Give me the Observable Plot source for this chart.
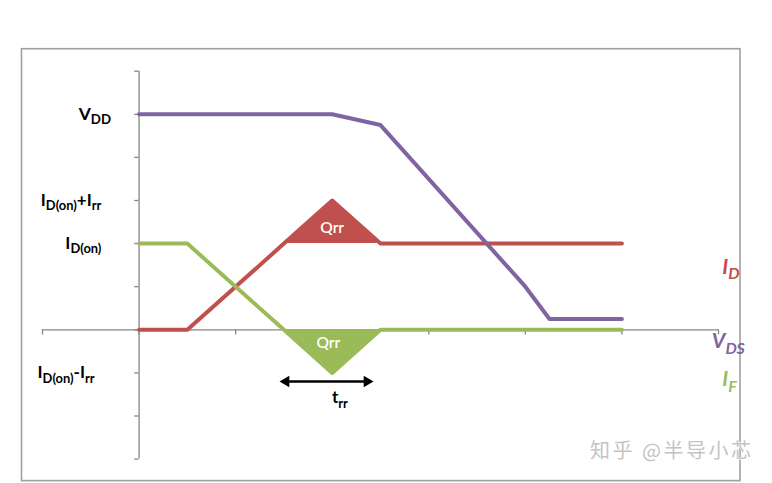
<!DOCTYPE html>
<html>
<head>
<meta charset="utf-8">
<script src="https://cdn.jsdelivr.net/npm/d3@7"></script>
<script src="https://cdn.jsdelivr.net/npm/@observablehq/plot@0.6"></script>
<style>
  html, body { margin: 0; padding: 0; background: #fff; }
  #chart svg { display: block; }
</style>
</head>
<body>
<div id="chart"></div>
<script>
// ---- data ----
const vdsX = [0, 2, 2.5, 4, 4.25, 5];
const vdsY = [5, 5, 4.75, 1, 0.25, 0.25];
const idX  = [0, 0.5, 1.5, 2, 2.5, 5];
const idY  = [0, 0, 2, 3, 2, 2];
const ifX  = [0, 0.5, 1.5, 2, 2.5, 5];
const ifY  = [2, 2, 0, -1, 0, 0];
const qrrStart = 1.5, qrrEnd = 2.5;     // reverse recovery interval
const trrY = -1.2;                       // level of the t_rr arrow
const xTicks = [-1, 0, 1, 2, 3, 4, 5, 6];
const yTicks = [-3, -2, -1, 0, 1, 2, 3, 4, 5, 6];
const yLabelText = ["V_{DD}", "I_{D(on)}+I_{rr}", "I_{D(on)}", "I_{D(on)}-I_{rr}"];
const yLabelValue = [5, 3, 2, -1];
const seriesNames = ["I_{D}", "V_{DS}", "I_{F}"];

const C = {vds: "#8064A2", id: "#C0504D", if: "#9BBB59", axis: "#868686"};

const zip = (xs, ys) => xs.map((x, i) => ({x, y: ys[i]}));
const vds = zip(vdsX, vdsY), id = zip(idX, idY), iF = zip(ifX, ifY);
const idTri = id.filter(d => d.x >= qrrStart && d.x <= qrrEnd);
const ifTri = iF.filter(d => d.x >= qrrStart && d.x <= qrrEnd);
const yLabels = yLabelText.map((t, i) => ({t, y: yLabelValue[i]}));

const font = "Lato, 'Open Sans', sans-serif";

const plot = Plot.plot({
  width: 772,
  height: 483,
  marginLeft: 42,
  marginRight: 54,
  marginTop: 70.7,
  marginBottom: 24.4,
  style: {fontFamily: font, background: "white"},
  x: {domain: [-1, 6], axis: null},
  y: {domain: [-3, 6], axis: null},
  marks: [
    Plot.frame({stroke: "#a0a0a0", strokeWidth: 1.6, insetLeft: -21, insetRight: -21.5, insetTop: -22.5, insetBottom: -21.5}),
    // axes
    Plot.ruleY([0], {x1: -1, x2: 6, stroke: C.axis, strokeWidth: 1.3}),
    Plot.ruleX([0], {y1: -3, y2: 6, stroke: C.axis, strokeWidth: 1.3}),
    Plot.ruleX(xTicks, {x: d => d, y1: 0, y2: -0.12, stroke: C.axis, strokeWidth: 1.3}),
    Plot.ruleY(yTicks, {y: d => d, x1: -0.045, x2: 0, stroke: C.axis, strokeWidth: 1.3}),
    // Qrr fills
    Plot.areaY(idTri, {x: "x", y1: 2, y2: "y", fill: C.id}),
    Plot.areaY(ifTri, {x: "x", y1: 0, y2: "y", fill: C.if}),
    // series
    Plot.line(id, {x: "x", y: "y", stroke: C.id, strokeWidth: 4, strokeLinejoin: "round"}),
    Plot.line(iF, {x: "x", y: "y", stroke: C.if, strokeWidth: 4, strokeLinejoin: "round"}),
    Plot.line(vds, {x: "x", y: "y", stroke: C.vds, strokeWidth: 4, strokeLinejoin: "round"}),
    // Qrr text
    Plot.text(["Qrr"], {x: (qrrStart + qrrEnd) / 2, y: 2.35, fill: "white", fontSize: 15.5, fontWeight: 600}),
    Plot.text(["Qrr"], {x: (qrrStart + qrrEnd) / 2 - 0.04, y: -0.3, fill: "white", fontSize: 15.5, fontWeight: 600}),
    // t_rr arrow
    Plot.ruleY([trrY], {x1: qrrStart + 0.03, x2: qrrEnd - 0.13, stroke: "black", strokeWidth: 2.5}),
    Plot.dot([qrrStart + 0.022], {x: d => d, y: trrY, symbol: "triangle", r: 4.2, rotate: -90, fill: "black", stroke: "none"}),
    Plot.dot([qrrEnd - 0.14], {x: d => d, y: trrY, symbol: "triangle", r: 4.2, rotate: 90, fill: "black", stroke: "none"}),
    Plot.text(["t_{rr}"], {x: 2.08, y: -1.58, fill: "black", fontSize: 17, fontWeight: "bold", textAnchor: "middle"}),
    // y labels
    Plot.text(yLabels.slice(0, 1), {x: -0.29, y: "y", text: "t", textAnchor: "end", fontSize: 17.5, fontWeight: "bold", fill: "black"}),
    Plot.text(yLabels.slice(1, 3), {x: -0.39, y: "y", text: "t", textAnchor: "end", fontSize: 17, fontWeight: "bold", fill: "black"}),
    Plot.text(yLabels.slice(3), {x: -0.46, y: "y", text: "t", textAnchor: "end", fontSize: 17, fontWeight: "bold", fill: "black"}),
    // series labels
    Plot.text([seriesNames[0]], {x: 6.04, y: 1.45, textAnchor: "start", fontSize: 21, fontWeight: "bold", fontStyle: "italic", fill: C.id}),
    Plot.text([seriesNames[1]], {x: 5.93, y: -0.27, textAnchor: "start", fontSize: 21, fontWeight: "bold", fontStyle: "italic", fill: C.vds}),
    Plot.text([seriesNames[2]], {x: 6.04, y: -1.15, textAnchor: "start", fontSize: 21, fontWeight: "bold", fontStyle: "italic", fill: C.if}),
    // watermark
    Plot.text(["知乎 @半导小芯"], {frameAnchor: "bottom-right", lineAnchor: "middle", dx: 35, dy: -8, textAnchor: "end", fontSize: 20, fill: "#c4c4c4", stroke: "white", strokeWidth: 1, fontFamily: "'Noto Sans CJK SC', sans-serif"})
  ]
});

// turn "_{...}" into subscript tspans
const NS = "http://www.w3.org/2000/svg";
d3.select(plot).selectAll("text").each(function () {
  const s = this.textContent;
  if (!s.includes("_{")) return;
  const parts = s.split(/(_\{[^}]*\})/).filter(Boolean);
  this.textContent = "";
  let down = false;
  for (const p of parts) {
    const t = document.createElementNS(NS, "tspan");
    if (p.startsWith("_{")) {
      t.textContent = p.slice(2, -1);
      t.setAttribute("font-size", "0.76em");
      if (!down) { t.setAttribute("dy", "0.34em"); down = true; }
    } else {
      t.textContent = p;
      if (down) { t.setAttribute("dy", "-0.26em"); down = false; }
    }
    this.appendChild(t);
  }
});
d3.select(plot).selectAll("text").filter(function () { return this.textContent.includes("知乎"); })
  .attr("letter-spacing", "2.5px");

document.getElementById("chart").appendChild(plot);
</script>
</body>
</html>
